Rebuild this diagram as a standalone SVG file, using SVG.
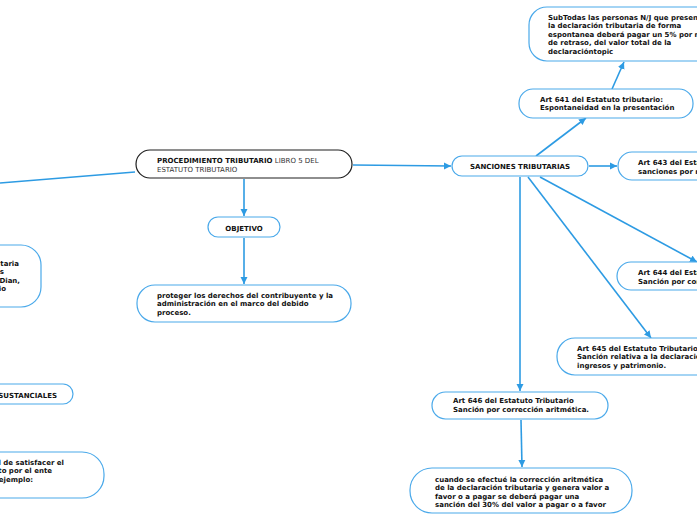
<svg xmlns="http://www.w3.org/2000/svg" width="697" height="520" viewBox="0 0 697 520">
<defs>
<marker id="arr" markerWidth="8" markerHeight="8" refX="7" refY="4" orient="auto" markerUnits="userSpaceOnUse">
<path d="M0,0.5 L7,4 L0,7.5 Z" fill="#2d9be3"/>
</marker>
<style>
.n{fill:#fff;stroke:#4aa9ea;stroke-width:1.2}
.m{fill:#fff;stroke:#1e1e1e;stroke-width:1.2}
.c{fill:none;stroke:#2d9be3;stroke-width:1.6}
.ca{fill:none;stroke:#2d9be3;stroke-width:1.6;marker-end:url(#arr)}
text{font-family:"DejaVu Sans","Verdana",sans-serif;font-size:7px;font-weight:bold;fill:#111}
.r{font-weight:normal;fill:#333}
</style>
</defs>
<rect width="697" height="520" fill="#fff"/>
<g id="connectors">
<path class="c" d="M135,172 L0,183"/>
<path class="ca" d="M244,179 L244,216"/>
<path class="ca" d="M244,238 L244,284"/>
<path class="ca" d="M353,165 L451,166"/>
<path class="ca" d="M536,156 L586,118"/>
<path class="ca" d="M612,89 L624,62"/>
<path class="ca" d="M589,166 L617,166"/>
<path class="ca" d="M540,177 L697,262"/>
<path class="ca" d="M528,177 L651,338"/>
<path class="ca" d="M520,177 L520,391"/>
<path class="ca" d="M521,420 L522,467"/>
</g>
<g id="main">
<rect class="m" x="136" y="150" width="216" height="28" rx="14"/>
<text x="157" y="163">PROCEDIMIENTO TRIBUTARIO<tspan class="r"> LIBRO 5 DEL</tspan></text>
<text class="r" x="157" y="172">ESTATUTO TRIBUTARIO</text>
</g>
<g id="objetivo">
<rect class="n" x="208" y="217" width="72" height="20" rx="10"/>
<text x="244" y="230.5" text-anchor="middle">OBJETIVO</text>
</g>
<g id="proteger">
<rect class="n" x="137" y="285" width="214" height="37" rx="18"/>
<text x="157" y="297.5">proteger los derechos del contribuyente y la</text>
<text x="157" y="306">administración en el marco del debido</text>
<text x="157" y="314.5">proceso.</text>
</g>
<g id="left-node">
<rect class="n" x="-60" y="245" width="101" height="62" rx="20"/>
<text x="19" y="265.5" text-anchor="end">taria</text>
<text x="4" y="274" text-anchor="end">s</text>
<text x="20" y="282.5" text-anchor="end">Dian,</text>
<text x="6" y="291" text-anchor="end">io</text>
</g>
<g id="sustanciales">
<rect class="n" x="-40" y="384" width="113" height="20" rx="10"/>
<text x="57" y="397.5" text-anchor="end">SUSTANCIALES</text>
</g>
<g id="satisfacer">
<rect class="n" x="-60" y="452" width="164" height="46" rx="22"/>
<text x="64" y="464.5" text-anchor="end">l de satisfacer el</text>
<text x="52" y="473" text-anchor="end">to por el ente</text>
<text x="33" y="481.5" text-anchor="end">ejemplo:</text>
</g>
<g id="sanciones">
<rect class="n" x="452" y="156" width="136" height="20" rx="10"/>
<text x="520" y="168.5" text-anchor="middle">SANCIONES TRIBUTARIAS</text>
</g>
<g id="art641">
<rect class="n" x="519" y="89" width="174" height="29" rx="14"/>
<text x="540" y="101.5">Art 641 del Estatuto tributario:</text>
<text x="540" y="110">Espontaneidad en la presentación</text>
</g>
<g id="subtodas">
<rect class="n" x="529" y="7" width="200" height="54" rx="18"/>
<text x="548" y="19.5">SubTodas las personas N/J que presen</text>
<text x="548" y="28">la declaración tributaria de forma</text>
<text x="548" y="36.5">espontanea deberá pagar un 5% por m</text>
<text x="548" y="45">de retraso, del valor total de la</text>
<text x="548" y="53.5">declaraciόntopic</text>
</g>
<g id="art643">
<rect class="n" x="618" y="152" width="120" height="28" rx="14"/>
<text x="638" y="165">Art 643 del Esta</text>
<text x="638" y="173.5">sanciones por m</text>
</g>
<g id="art644">
<rect class="n" x="617" y="262" width="120" height="28" rx="14"/>
<text x="638" y="275">Art 644 del Esta</text>
<text x="638" y="283.5">Sanción por cor</text>
</g>
<g id="art645">
<rect class="n" x="557" y="338" width="180" height="37" rx="18"/>
<text x="577" y="350.5">Art 645 del Estatuto Tributario</text>
<text x="577" y="359">Sanción relativa a la declaració</text>
<text x="577" y="367.5">ingresos y patrimonio.</text>
</g>
<g id="art646">
<rect class="n" x="432" y="392" width="176" height="27" rx="13.5"/>
<text x="453" y="403">Art 646 del Estatuto Tributario</text>
<text x="453" y="411.5">Sanción por corrección aritmética.</text>
</g>
<g id="cuando">
<rect class="n" x="410" y="468" width="222" height="45" rx="22"/>
<text x="435" y="481.5">cuando se efectué la corrección aritmética</text>
<text x="435" y="490">de la declaración tributaria y genera valor a</text>
<text x="435" y="498.5">favor o a pagar se deberá pagar una</text>
<text x="435" y="507">sanción del 30% del valor a pagar o a favor</text>
</g>
</svg>
